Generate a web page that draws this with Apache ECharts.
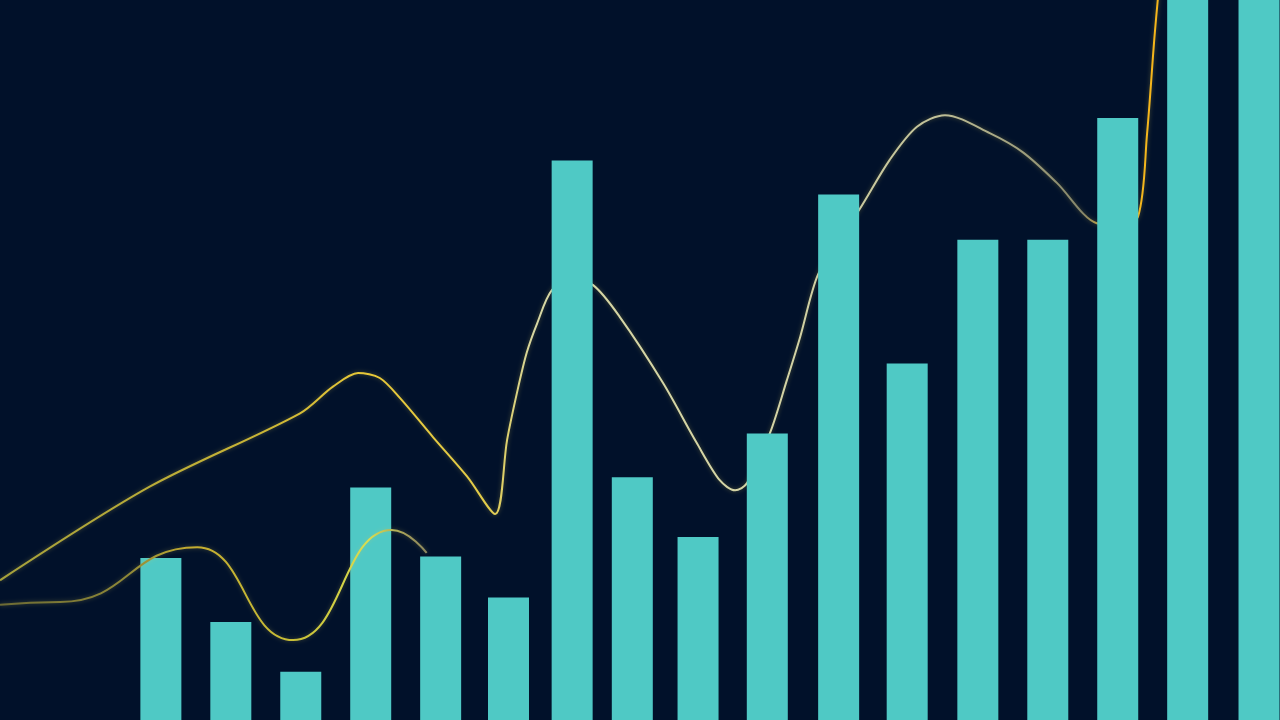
<!DOCTYPE html>
<html>
<head>
<meta charset="utf-8">
<style>
  html, body { margin: 0; padding: 0; background: #01112a; }
  #chart { width: 1280px; height: 720px; }
</style>
<script src="https://cdn.jsdelivr.net/npm/echarts@6/dist/echarts.min.js"></script>
</head>
<body>
<div id="chart"></div>
<script>
// Bar positions along the x axis (period index) and bar values
const barX = [1, 2, 3, 4, 5, 5.97, 6.88, 7.74, 8.68, 9.67, 10.69, 11.67, 12.68, 13.68, 14.68, 15.68, 16.7];
const barValues = [22.5, 13.6, 6.7, 32.3, 22.7, 17.0, 77.7, 33.7, 25.4, 39.8, 73.0, 49.5, 66.7, 66.7, 83.6, 108, 112];

// Upper trend line (x, value)
const lineAX = [-1.30, 0.84, 2.99, 3.46, 3.82, 4.13, 4.42, 4.89, 5.38, 5.78, 5.95, 6.09, 6.23, 6.38, 6.59, 6.88, 7.18, 7.56, 8.18, 8.66, 8.99, 9.21, 9.38, 9.71, 9.95, 10.14, 10.38, 10.68, 10.98, 11.42, 11.81, 12.21, 12.85, 13.33, 13.81, 14.38, 14.68, 14.97, 15.10, 15.21, 15.31];
const lineAY = [19.4, 32.4, 42.6, 46.3, 48.2, 47.5, 44.7, 39.3, 33.8, 28.6, 38.9, 45.4, 51.0, 55.1, 59.7, 61.1, 60.4, 56.0, 46.8, 38.5, 33.3, 31.9, 32.9, 39.9, 47.2, 53.2, 61.5, 66.7, 70.8, 77.8, 82.4, 84.0, 81.5, 78.8, 74.6, 69.0, 68.8, 69.9, 81.5, 95.4, 105.6];

// Lower trend line (x, value): start, turning points, end
const lineBX = [-1.30, -0.44, 1.52, 2.89, 4.30, 4.80];
const lineBY = [16.0, 16.4, 24.0, 11.1, 26.4, 23.2];

const zip = (xs, ys) => xs.map((x, i) => [x, ys[i]]);

const chart = echarts.init(document.getElementById('chart'), null, { renderer: 'canvas' });
chart.setOption({
  backgroundColor: '#01112a',
  animation: false,
  grid: { left: 0, right: 0, top: 0, bottom: 0 },
  xAxis: { type: 'value', min: -1.3, max: 17, show: false, splitLine: { show: false } },
  yAxis: { type: 'value', min: 0, max: 100, show: false, splitLine: { show: false } },
  series: [
    {
      type: 'line',
      z: 1,
      clip: false,
      smooth: 0.3,
      showSymbol: false,
      data: zip(lineAX, lineAY),
      lineStyle: {
        width: 2,
        shadowColor: 'rgba(220, 200, 80, 0.35)',
        shadowBlur: 4,
        color: {
          type: 'linear', x: 0, y: 0, x2: 1, y2: 0,
          colorStops: [
            { offset: 0, color: '#a4a03c' },
            { offset: 0.22, color: '#c8b436' },
            { offset: 0.32, color: '#e8c838' },
            { offset: 0.42, color: '#e2cc4a' },
            { offset: 0.46, color: '#d6d6a4' },
            { offset: 0.66, color: '#d4d4a6' },
            { offset: 0.8, color: '#c2c29a' },
            { offset: 0.93, color: '#86866a' },
            { offset: 0.96, color: '#f2b820' },
            { offset: 1, color: '#f5b41a' }
          ]
        }
      }
    },
    {
      type: 'bar',
      z: 2,
      clip: false,
      barWidth: 41,
      data: zip(barX, barValues),
      itemStyle: { color: '#4fc9c5' }
    },
    {
      type: 'line',
      z: 3,
      clip: false,
      smooth: 0.5,
      smoothMonotone: 'x',
      showSymbol: false,
      data: zip(lineBX, lineBY),
      lineStyle: {
        width: 2,
        shadowColor: 'rgba(220, 200, 80, 0.3)',
        shadowBlur: 4,
        color: {
          type: 'linear', x: 0, y: 0, x2: 1, y2: 0,
          colorStops: [
            { offset: 0, color: '#6c6a34' },
            { offset: 0.3, color: '#8e8838' },
            { offset: 0.45, color: '#c4ac30' },
            { offset: 0.7, color: '#c8c038' },
            { offset: 0.86, color: '#dade50' },
            { offset: 0.95, color: '#a09a5a' },
            { offset: 1, color: '#8a8660' }
          ]
        }
      }
    }
  ]
});
</script>
</body>
</html>
